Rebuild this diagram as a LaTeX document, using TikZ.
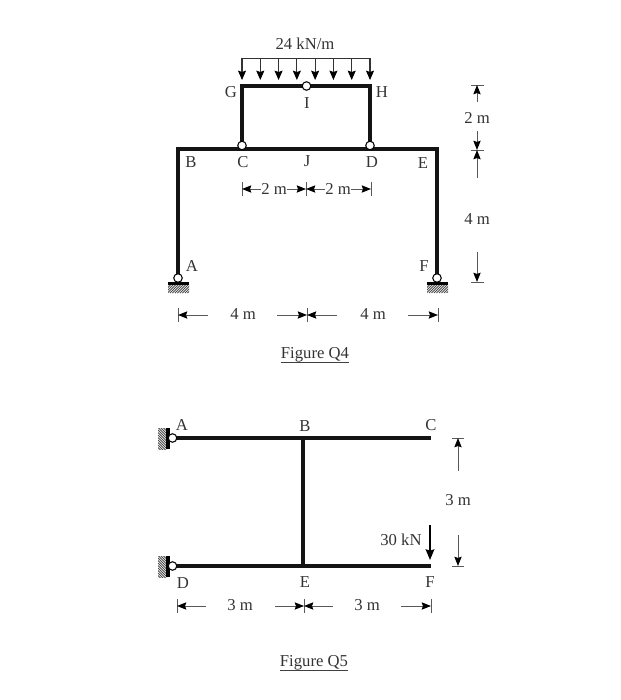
\documentclass[tikz,border=0pt]{standalone}
\usepackage{fontspec}
\setmainfont{Liberation Serif}
\usetikzlibrary{arrows.meta}
\tikzset{
 beam/.style={line width=2.7pt,line cap=butt,line join=miter,black!92},
 pin/.style={circle,draw=black,line width=0.8pt,fill=white,minimum size=6.4pt,inner sep=0pt},
 lab/.style={font=\fontsize{12.5pt}{14pt}\selectfont,inner sep=0pt,text=black!80},
 dim/.style={line width=0.7pt,black!65,-{Stealth[length=7pt,width=5.5pt,inset=1pt,black]}},
 tick/.style={line width=0.7pt,black!65},
 loadline/.style={line width=0.7pt,black!80},
 loadarrow/.style={line width=0.8pt,black!80,-{Stealth[length=7pt,width=6pt,inset=1pt,black]}},
 force/.style={line width=1.2pt,black,-{Stealth[length=8pt,width=6.5pt,inset=1pt]}},
 base/.style={line width=2.6pt,black},
 hatch/.style={line width=0.7pt,black!70},
 uline/.style={line width=0.7pt,black!75}
}
\begin{document}
\begin{tikzpicture}[x=0.75pt,y=-0.75pt]
\useasboundingbox (0,0) rectangle (621,700);
% Figure Q4 joints
\coordinate (A) at (178,278);
\coordinate (B) at (178,149);
\coordinate (C) at (242,149);
\coordinate (D) at (370,149);
\coordinate (E) at (437,149);
\coordinate (F) at (437,278);
\coordinate (G) at (242,86);
\coordinate (H) at (370,86);
\coordinate (I) at (306.5,86);
\draw[beam] (A) -- (B) -- (E) -- (F);
\draw[beam] (C) -- (G) -- (H) -- (D);
\node[pin] (pinA) at (178,278) {};
\node[pin] (pinF) at (437,278) {};
\node[pin] (pinC) at (242,145.5) {};
\node[pin] (pinD) at (370,145.5) {};
\node[pin] (pinI) at (I) {};
% supports Q4
\coordinate (a1) at (168,283.5); \coordinate (a2) at (189,283.5);
\coordinate (f1) at (427,283.5); \coordinate (f2) at (448,283.5);
\begin{scope}
\clip (168,284) rectangle (189,293);
\foreach \x in {160,162.5,...,190} \draw[hatch] (\x,293) -- (\x+9,284);
\end{scope}
\begin{scope}
\clip (427,284) rectangle (448,293);
\foreach \x in {419,421.5,...,449} \draw[hatch] (\x,293) -- (\x+9,284);
\end{scope}
\draw[base] (a1) -- (a2);
\draw[base] (f1) -- (f2);
% distributed load
\coordinate (l0) at (242,58); \coordinate (l7) at (370,58);
\draw[loadline] (l0) -- (l7);
\foreach \i in {0,...,7} {
  \coordinate (lt\i) at ({242+\i*128/7},58);
  \coordinate (lb\i) at ({242+\i*128/7},80);
  \draw[loadarrow] (lt\i) -- (lb\i);
}
% labels Q4
\node[lab] (t24) at (305,44) {24 kN/m};
\node[lab] (tG) at (231,92) {G};
\node[lab] (tH) at (382,92) {H};
\node[lab] (tI) at (307,103) {I};
\node[lab] (tB) at (191,162) {B};
\node[lab] (tC) at (243,162) {C};
\node[lab] (tJ) at (307,161) {J};
\node[lab] (tD) at (372,162) {D};
\node[lab] (tE) at (423,163) {E};
\node[lab] (tA) at (192,266) {A};
\node[lab] (tF) at (424,266) {F};
% 2 m dims
\coordinate (p1) at (242,189); \coordinate (p2) at (306,189); \coordinate (p3) at (371,189);
\draw[tick] (242,182) -- (242,196);
\draw[tick] (306,182) -- (306,196);
\draw[tick] (371,182) -- (371,196);
\node[lab] (d21) at (274,189) {2 m};
\node[lab] (d22) at (338,189) {2 m};
\draw[dim] (d21.west) -- (p1);
\draw[dim] (d21.east) -- (p2);
\draw[dim] (d22.west) -- (p2);
\draw[dim] (d22.east) -- (p3);
% 4 m horizontal dims
\coordinate (q1) at (178,315); \coordinate (q2) at (307,315); \coordinate (q3) at (438,315);
\coordinate (q1e) at (208,315); \coordinate (q2a) at (277,315); \coordinate (q2b) at (337,315); \coordinate (q3a) at (408,315);
\foreach \x in {178,307,438} \draw[tick] (\x,308) -- (\x,322);
\draw[dim] (q1e) -- (q1);
\draw[dim] (q2a) -- (q2);
\draw[dim] (q2b) -- (q2);
\draw[dim] (q3a) -- (q3);
\node[lab] (d41) at (243,314) {4 m};
\node[lab] (d42) at (373,314) {4 m};
% right dims Q4
\coordinate (r1) at (477,85); \coordinate (r2) at (477,150); \coordinate (r3) at (477,282);
\coordinate (r1e) at (477,102); \coordinate (r2a) at (477,131); \coordinate (r2b) at (477,178); \coordinate (r3a) at (477,252);
\foreach \y in {85,150,282} \draw[tick] (470.5,\y) -- (483.5,\y);
\draw[dim] (r1e) -- (r1);
\draw[dim] (r2a) -- (r2);
\draw[dim] (r2b) -- (r2);
\draw[dim] (r3a) -- (r3);
\node[lab] (d2v) at (477,118) {2 m};
\node[lab] (d4v) at (477,219) {4 m};
\node[lab] (cap4) at (315,355) {Figure Q4};
\draw[uline] (cap4.west |- 0,362) -- (cap4.east |- 0,362);
% Figure Q5
\coordinate (Aq) at (172,438); \coordinate (Bq) at (303,438); \coordinate (Cq) at (431,438);
\coordinate (Dq) at (172,566); \coordinate (Eq) at (303,566); \coordinate (Fq) at (431,566);
\draw[beam] (Aq) -- (Cq);
\draw[beam] (Dq) -- (Fq);
\draw[beam] (Bq) -- (Eq);
\coordinate (w1) at (168,428); \coordinate (w2) at (168,449);
\coordinate (w3) at (168,556); \coordinate (w4) at (168,577);
\begin{scope}
\clip (158,428) rectangle (167,449);
\foreach \y in {420,422.5,...,450} \draw[hatch] (158,\y) -- (167,\y+9);
\end{scope}
\begin{scope}
\clip (158,556) rectangle (167,577);
\foreach \y in {548,550.5,...,578} \draw[hatch] (158,\y) -- (167,\y+9);
\end{scope}
\draw[base] (w1) -- (w2);
\draw[base] (w3) -- (w4);
\node[pin] (pinAq) at (172.5,438) {};
\node[pin] (pinDq) at (172.5,566) {};
\node[lab] (qA) at (182,425) {A};
\node[lab] (qB) at (305,426) {B};
\node[lab] (qC) at (431,425) {C};
\node[lab] (qD) at (183,583) {D};
\node[lab] (qE) at (305,582) {E};
\node[lab] (qF) at (430,582) {F};
% force
\coordinate (ft) at (430,525); \coordinate (fb) at (430,560);
\draw[force] (ft) -- (fb);
\node[lab] (t30) at (401,540) {30 kN};
% dims Q5
\coordinate (s1) at (177,606); \coordinate (s2) at (304,606); \coordinate (s3) at (431,606);
\coordinate (s1e) at (206,606); \coordinate (s2a) at (275,606); \coordinate (s2b) at (333,606); \coordinate (s3a) at (401,606);
\foreach \x in {177,304,431} \draw[tick] (\x,599) -- (\x,613);
\draw[dim] (s1e) -- (s1);
\draw[dim] (s2a) -- (s2);
\draw[dim] (s2b) -- (s2);
\draw[dim] (s3a) -- (s3);
\node[lab] (d31) at (240,605) {3 m};
\node[lab] (d32) at (367,605) {3 m};
\coordinate (u1) at (458,438); \coordinate (u2) at (458,566);
\coordinate (u1e) at (458,471); \coordinate (u2a) at (458,535);
\foreach \y in {438,566} \draw[tick] (452,\y) -- (464,\y);
\draw[dim] (u1e) -- (u1);
\draw[dim] (u2a) -- (u2);
\node[lab] (d3v) at (458,500) {3 m};
\node[lab] (cap5) at (314,663) {Figure Q5};
\draw[uline] (cap5.west |- 0,670) -- (cap5.east |- 0,670);
\end{tikzpicture}
\end{document}
